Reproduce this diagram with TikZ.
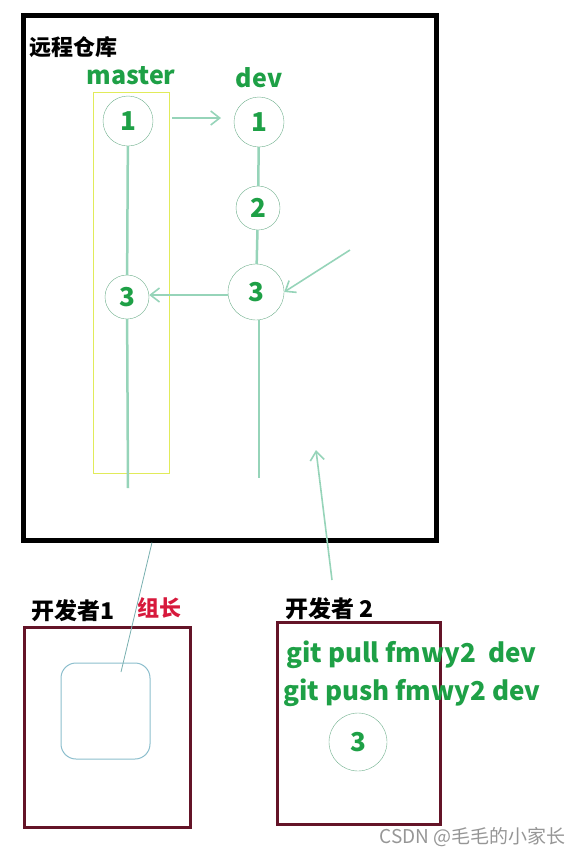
\documentclass[tikz,border=0pt]{standalone}
\usepackage{fontspec}
\setmainfont{Noto Sans CJK SC}
\usepackage{tikz}
\usetikzlibrary{arrows.meta,positioning}
\definecolor{gitgreen}{RGB}{30,160,70}
\definecolor{ringgreen}{RGB}{110,175,140}
\definecolor{branchgreen}{RGB}{150,212,185}
\definecolor{boxred}{RGB}{100,20,40}
\definecolor{leadred}{RGB}{215,25,60}
\definecolor{workblue}{RGB}{140,190,205}

\begin{document}
\begin{tikzpicture}[x=1pt, y=-1pt,
	commit/.style={circle, draw=ringgreen, thin, inner sep=0pt, text=gitgreen, font=\bfseries\fontsize{26}{26}\selectfont},
	branch/.style={draw=branchgreen, line width=2.5pt},
	move/.style={draw=branchgreen, line width=1.6pt, -{Straight Barb[length=9pt,width=14pt]}},
	title/.style={anchor=west, inner sep=0pt, font=\bfseries\fontsize{22}{22}\selectfont},
	gitcmd/.style={anchor=west, inner sep=0pt, text=gitgreen, font=\bfseries\fontsize{26}{26}\selectfont}]
	\useasboundingbox (0,0) rectangle (577,855);

	\node (remote) [draw, line width=5pt, minimum width=413pt, minimum height=525pt] at (229.5,277.5) {};
	\node [title] at (29,47) {远程仓库};
	\node (lane) [draw={rgb,255:red,225;green,235;blue,90}, thin, minimum width=76pt, minimum height=381pt] at (131,282.5) {};
	\node (master) [gitcmd, anchor=center, font=\bfseries\fontsize{25}{25}\selectfont] at (131,76) {master};
	\node (dev) [gitcmd, anchor=center, font=\bfseries\fontsize{25}{25}\selectfont] at (259,78) {dev};

	\node (m1) [commit, minimum size=50pt] at (128,121) {1};
	\node (m3) [commit, minimum size=44pt] at (127,297) {3};
	\coordinate (mend) at (128,488);
	\node (d1) [commit, minimum size=50pt] at (259,122) {1};
	\node (d2) [commit, minimum size=44pt] at (258,208) {2};
	\node (d3) [commit, minimum size=56pt] at (256,292) {3};
	\coordinate (dend) at (259,478);

	\draw [branch] (m1) -- (m3);
	\draw [branch] (m3) -- (mend);
	\draw [branch] (d1) -- (d2);
	\draw [branch] (d2) -- (d3);
	\draw [branch] (d3.south -| dend) -- (dend);

	\coordinate (pushout) at (172,118);
	\coordinate (pushin) at (221,118);
	\draw [move] (pushout) -- (pushin);
	\draw [move] (d3.west |- 0,295) -- (m3.east |- 0,295);
	\coordinate (pushfrom) at (350,250);
	\draw [move] (pushfrom) -- (d3.east);
	\coordinate (upfrom) at (332,580);
	\coordinate (upto) at (316,450);
	\draw [move] (upfrom) -- (upto);

	\node (dev1box) [draw=boxred, line width=3pt, minimum width=166pt, minimum height=200pt] at (107,727) {};
	\node [title, font=\bfseries\fontsize{23}{23}\selectfont] at (31,611) {开发者1};
	\node [title, text=leadred] at (137,608) {组长};
	\node (work) [draw=workblue, line width=1pt, rounded corners=15pt, minimum width=89pt, minimum height=96pt] at (105.5,711) {};
	\coordinate (workin) at (121,672);
	\draw [draw={rgb,255:red,120;green,175;blue,175}, line width=0.8pt] (workin) -- (remote.south -| 152,0);

	\node (dev2box) [draw=boxred, line width=3pt, minimum width=163pt, minimum height=202pt] at (358.5,723) {};
	\node [title, font=\bfseries\fontsize{23}{23}\selectfont] at (285,609) {开发者 2};
	\node (pull) [gitcmd] at (286,655) {git pull fmwy2\ \ dev};
	\node (push) [gitcmd] at (283,693) {git push fmwy2 dev};
	\node (c3) [commit, minimum size=58pt] at (358,742) {3};

	\node (mark) [anchor=east, inner sep=0pt, text={rgb,255:red,150;green,150;blue,150}, font=\fontsize{19}{19}\selectfont] at (566,837) {CSDN @毛毛的小家长};
\end{tikzpicture}
\end{document}
